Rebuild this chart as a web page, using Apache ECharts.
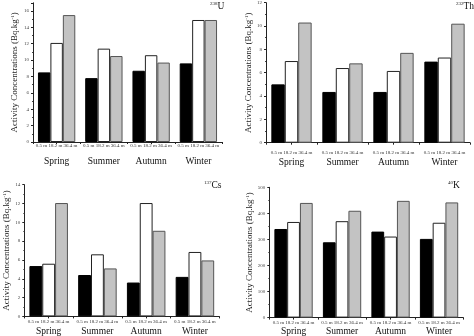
<!DOCTYPE html>
<html><head><meta charset="utf-8">
<script src="https://cdn.jsdelivr.net/npm/echarts@6/dist/echarts.min.js"></script>
<style>html,body{margin:0;padding:0;background:#fff}#c{width:474px;height:336px}</style>
</head><body><div id="c"></div>
<script>
var seasons = ['Spring', 'Summer', 'Autumn', 'Winter'];
var depths = ['0.5 m', '18.2 m', '36.4 m'];
var u238_05 = [8.5, 7.8, 8.7, 9.6];
var u238_18 = [12.1, 11.4, 10.6, 14.9];
var u238_36 = [15.5, 10.5, 9.7, 14.9];
var th232_05 = [5.0, 4.35, 4.35, 6.95];
var th232_18 = [7.0, 6.4, 6.15, 7.3];
var th232_36 = [10.3, 6.8, 7.7, 10.2];
var cs137_05 = [5.35, 4.4, 3.6, 4.2];
var cs137_18 = [5.6, 6.6, 12.05, 6.85];
var cs137_36 = [12.05, 5.1, 9.1, 5.95];
var k40_05 = [340, 289, 330, 302];
var k40_18 = [367, 370, 311, 364];
var k40_36 = [440, 410, 448, 442];
var yMax = [17, 12, 14, 500];
var yInterval = [2, 2, 2, 100];
var isotopes = [['238', 'U'], ['232', 'Th'], ['137', 'Cs'], ['40', 'K']];
var yTitle = 'Activity Concentrations (Bq.kg{sup|-1})';

var FONT = 'Liberation Serif';
var chart = echarts.init(document.getElementById('c'), null, {renderer: 'canvas'});

var grids = [
  {left: 33, top: 2.8, width: 189, height: 139.2},
  {left: 266, top: 2.7, width: 204, height: 140},
  {left: 24.3, top: 184.7, width: 195, height: 132},
  {left: 269.3, top: 187.3, width: 194, height: 131.4}
];
var xLab = [
  {margin: 0.3, l1: 6, l2: 26},
  {margin: 7.3, l1: 6, l2: 12.6},
  {margin: 2.3, l1: 6, l2: 12.6},
  {margin: 1.6, l1: 6, l2: 11.6}
];
var nameGaps = [13.5, 7, 13.3, 15.3];
var titlePos = [
  {left: 210, top: 1},
  {right: 0, top: 1},
  {left: 204, top: 180},
  {left: 448, top: 180}
];
var dataSets = [
  [u238_05, u238_18, u238_36],
  [th232_05, th232_18, th232_36],
  [cs137_05, cs137_18, cs137_36],
  [k40_05, k40_18, k40_36]
];
var depthStr = depths.join(' ');
var barStyles = [
  {color: '#000000', borderColor: '#000000', borderWidth: 1},
  {color: '#ffffff', borderColor: '#222222', borderWidth: 1},
  {color: '#c3c3c3', borderColor: '#555555', borderWidth: 1}
];

var xAxes = [], yAxes = [], series = [], titles = [];
for (var g = 0; g < 4; g++) {
  (function(g) {
    var xl = xLab[g];
    xAxes.push({
      type: 'category', gridIndex: g, data: seasons,
      axisLine: {lineStyle: {color: '#222', width: 1}},
      axisTick: {show: true, length: 2, lineStyle: {color: '#222'}},
      axisLabel: {
        margin: xl.margin, interval: 0,
        formatter: function(v) { return '{s|' + depthStr + '}\n{b|' + v + '}'; },
        rich: {
          s: {fontFamily: FONT, fontSize: 5, color: '#333', lineHeight: xl.l1},
          b: {fontFamily: FONT, fontSize: 9.5, color: '#111', lineHeight: xl.l2}
        }
      }
    });
    xAxes.push({
      type: 'category', gridIndex: g, data: seasons, position: 'bottom',
      axisLine: {show: false},
      axisTick: {show: true, alignWithLabel: true, length: 2, lineStyle: {color: '#222'}},
      axisLabel: {show: false}
    });
    yAxes.push({
      type: 'value', gridIndex: g, min: 0, max: yMax[g], interval: yInterval[g],
      splitLine: {show: false},
      axisLine: {show: true, lineStyle: {color: '#222', width: 1}},
      axisTick: {show: true, length: 2, lineStyle: {color: '#222'}},
      minorTick: {show: true, splitNumber: 2, length: 1, lineStyle: {color: '#444'}},
      axisLabel: {fontFamily: FONT, fontSize: 5, color: '#444', margin: 4, showMaxLabel: yMax[g] % yInterval[g] === 0},
      name: yTitle, nameLocation: 'middle', nameRotate: 90, nameGap: nameGaps[g],
      nameTextStyle: {
        fontFamily: FONT, fontSize: 9, color: '#222',
        rich: {sup: {fontFamily: FONT, fontSize: 5, color: '#222', verticalAlign: 'top', lineHeight: 8}}
      }
    });
    for (var k = 0; k < 3; k++) {
      series.push({
        type: 'bar', xAxisIndex: g * 2, yAxisIndex: g,
        data: dataSets[g][k], barGap: '0%', barCategoryGap: '21%',
        itemStyle: barStyles[k], silent: true, animation: false
      });
    }
    var t = {
      text: '{sup|' + isotopes[g][0] + '}{m|' + isotopes[g][1] + '}',
      padding: 0,
      textStyle: {
        fontWeight: 'normal',
        rich: {
          sup: {fontFamily: FONT, fontWeight: 'normal', fontSize: 5, color: '#222', verticalAlign: 'top', lineHeight: 10},
          m: {fontFamily: FONT, fontWeight: 'normal', fontSize: 9.5, color: '#111', lineHeight: 10}
        }
      }
    };
    for (var key in titlePos[g]) t[key] = titlePos[g][key];
    titles.push(t);
  })(g);
}

chart.setOption({
  animation: false,
  backgroundColor: '#ffffff',
  title: titles,
  grid: grids,
  xAxis: xAxes,
  yAxis: yAxes,
  series: series
});
</script>
</body></html>
